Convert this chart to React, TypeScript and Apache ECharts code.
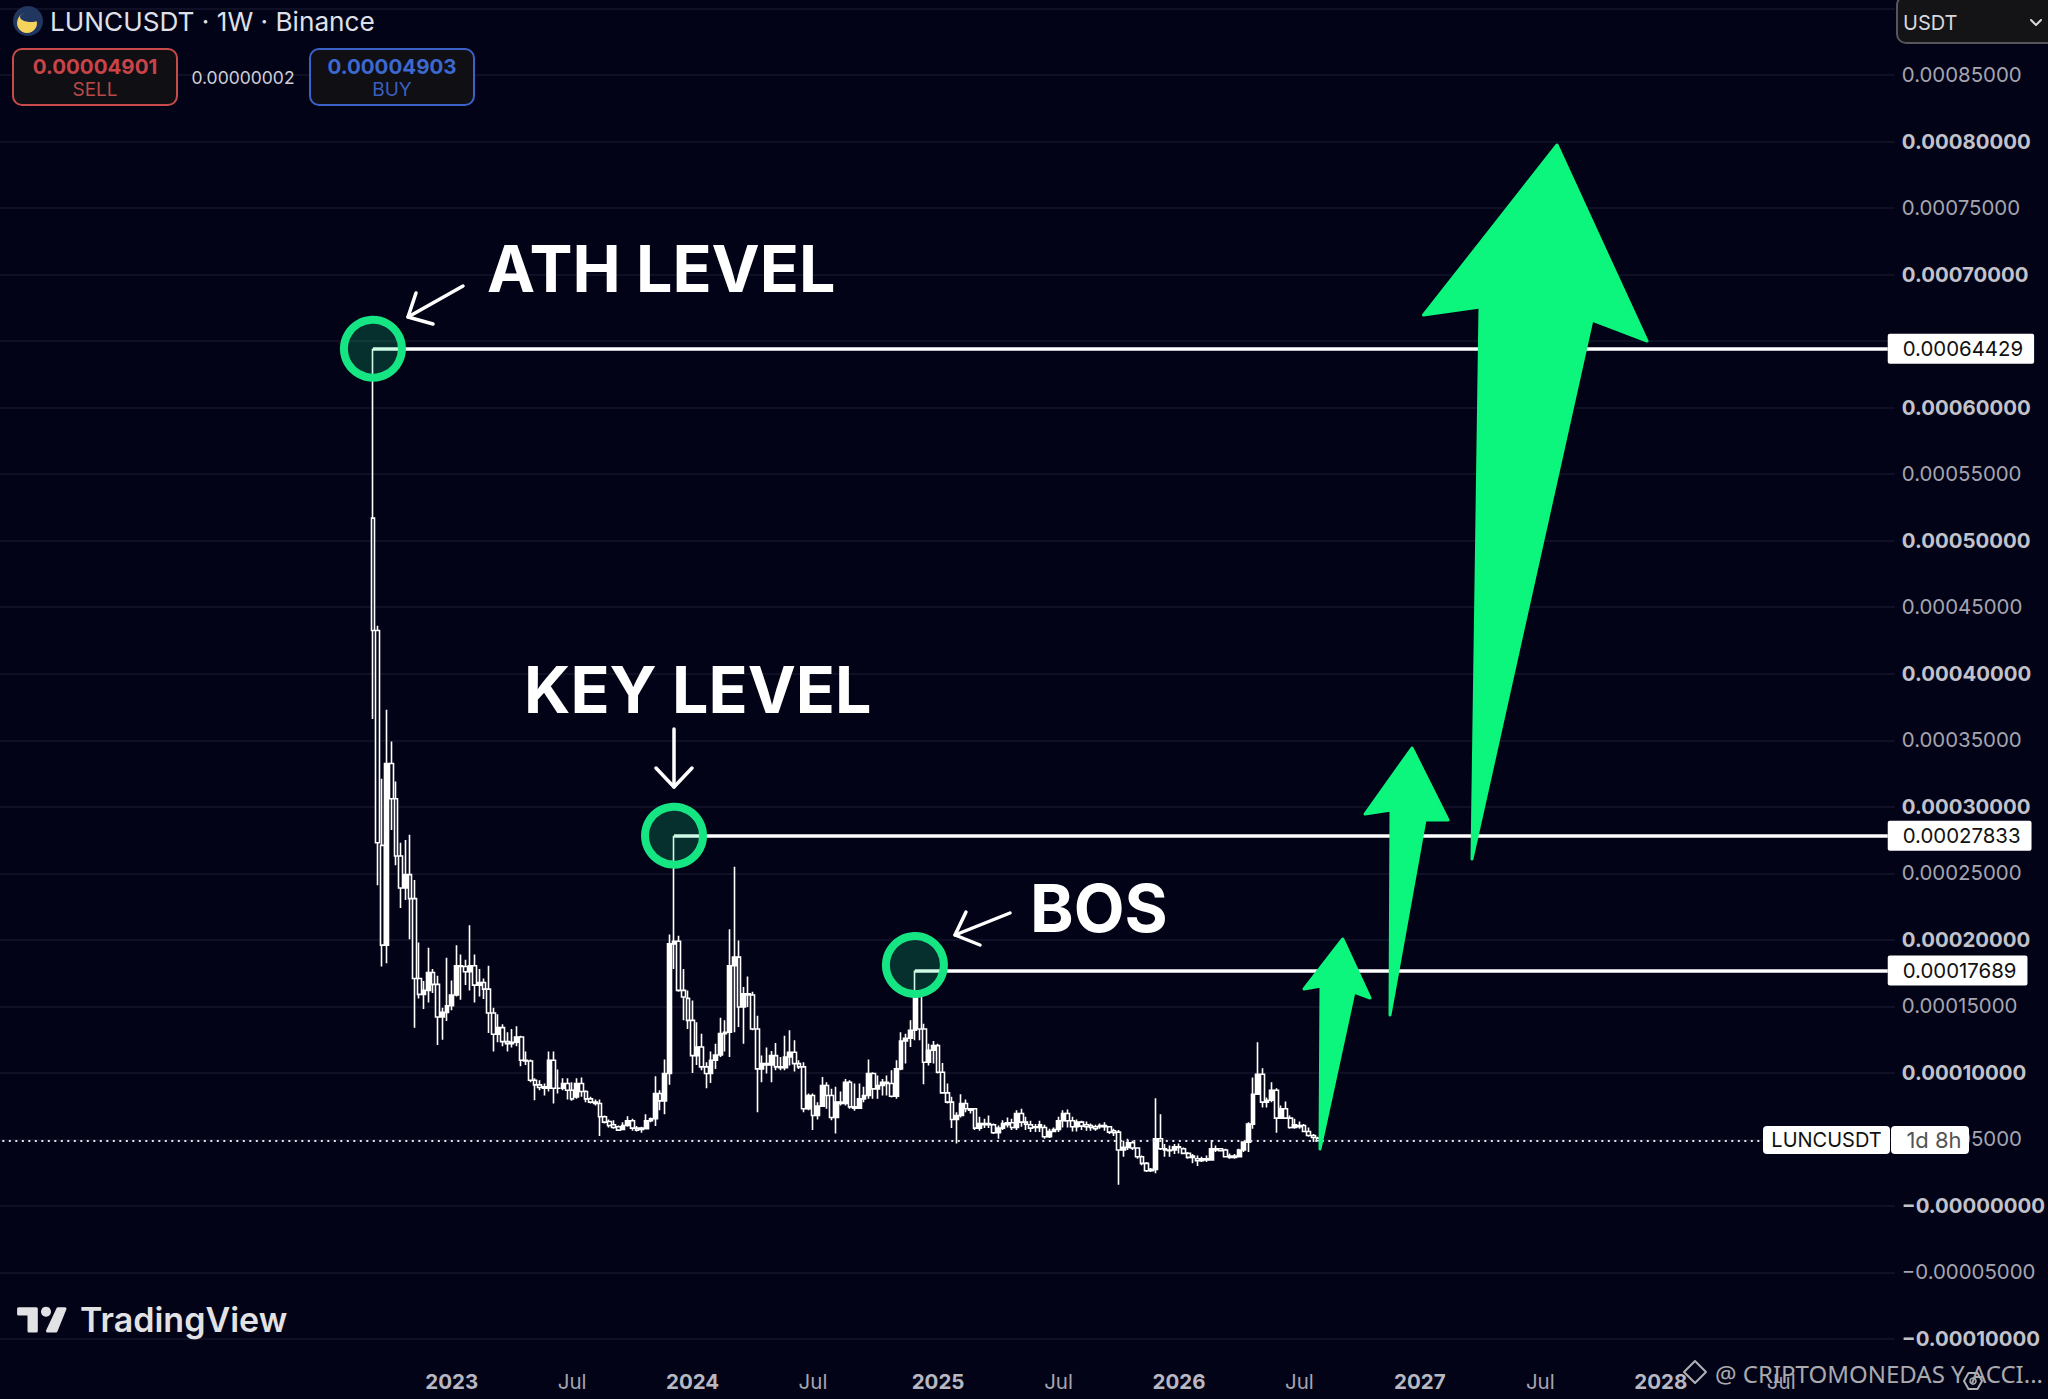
import React, { useEffect, useRef } from "react";
import * as echarts from "echarts";

// Prices in units of 0.00001 USDT, one entry per weekly candle
const opens = [51.7,43.25,27.1,19.6,33.25,30.6,26.3,23.9,24.9,23.1,17.1,15.9,16.2,17.55,16.65,14.2,14.55,15.05,15.85,18.05,18.0,17.6,18.05,16.6,16.8,16.3,14.5,12.9,13.4,12.35,12.2,12.3,12.7,10.95,10.9,9.45,9.1,8.95,8.85,10.95,8.85,8.85,9.2,8.7,8.2,9.2,8.6,8.05,7.8,7.7,6.7,6.35,6.1,5.95,5.75,6.05,6.4,5.85,5.85,5.8,6.4,6.55,8.45,7.9,9.95,19.7,19.9,16.2,15.6,13.95,11.3,11.95,10.45,9.95,10.95,11.35,12.95,13.05,18.05,18.7,14.95,15.95,15.85,13.3,10.3,10.7,10.6,11.3,10.45,10.4,11.2,11.55,10.7,10.45,7.3,8.3,6.8,7.5,9.05,8.3,6.65,7.8,7.7,9.3,7.45,7.35,8.05,8.3,9.95,8.8,9.05,9.3,9.2,8.25,10.3,12.4,12.6,13.2,16.15,13.3,10.8,11.7,12.05,10.05,8.5,7.8,6.5,6.8,7.7,7.3,7.3,5.85,6.2,6.1,6.1,5.5,5.85,6.1,6.25,5.9,6.95,6.3,6.1,5.95,5.9,5.9,5.2,5.6,5.75,6.4,6.95,6.4,5.95,6.3,6.1,6.05,5.95,6.05,6.05,5.95,5.65,5.55,4.2,4.4,4.75,4.35,3.7,3.2,2.65,2.75,5.05,4.3,4.2,4.2,4.45,4.3,3.95,3.65,3.55,3.4,3.55,3.45,4.3,4.3,4.2,3.75,3.75,3.7,4.2,4.8,6.15,8.4,9.9,7.8,7.95,8.7,6.6,7.3,6.6,5.9,6.05,6.05,5.6,5.3,5.1];
const closes = [43.25,27.3,19.6,33.25,30.6,26.3,23.9,24.9,23.1,17.1,15.9,16.2,17.55,16.65,14.2,14.55,15.05,15.85,18.05,18.0,17.6,18.05,16.6,16.8,16.3,14.5,12.9,13.4,12.35,12.2,12.3,12.7,10.95,10.9,9.45,9.1,8.9,8.85,10.95,8.85,8.85,9.2,8.7,8.05,9.2,8.6,8.05,7.8,7.7,6.7,6.3,6.05,5.9,5.7,6.05,6.4,5.85,5.7,5.75,6.4,6.55,8.45,7.9,9.95,19.7,19.9,16.2,15.7,13.95,11.3,11.95,10.45,9.95,10.95,11.35,12.95,13.05,18.05,18.7,14.95,15.95,15.85,13.3,10.3,10.7,10.6,11.3,10.45,10.4,11.2,11.55,10.7,10.45,7.3,8.3,6.8,7.5,9.05,8.3,6.65,7.8,7.7,9.3,7.45,7.35,8.05,8.3,9.95,8.8,9.05,9.3,9.2,8.25,10.3,12.4,12.6,13.2,16.15,13.3,10.8,11.7,12.05,10.05,8.5,7.8,6.5,6.8,7.7,7.3,7.2,5.85,6.2,6.1,6.2,5.5,5.85,6.2,6.25,5.9,6.95,6.3,6.15,5.85,5.9,6.1,5.2,5.6,5.75,6.4,6.95,6.4,5.95,6.3,6.0,5.95,5.9,5.8,5.95,5.95,5.55,5.5,4.2,4.4,4.75,4.35,3.7,3.2,2.65,2.75,5.05,4.3,4.2,4.15,4.45,4.4,3.95,3.65,3.75,3.4,3.55,3.45,4.3,4.2,4.15,3.7,3.65,3.65,4.2,4.8,6.15,8.4,9.9,7.8,7.95,8.7,6.6,7.3,6.6,5.9,6.1,5.95,5.6,5.3,5.15,4.9];
const lows = [36.6,24.1,18.0,18.25,28.25,25.6,22.4,23.0,20.05,13.4,15.6,14.8,15.3,16.0,12.1,12.5,13.9,14.7,15.75,15.5,16.6,16.2,15.3,15.75,15.55,13.0,11.6,12.3,12.0,11.6,11.9,12.0,10.5,10.6,9.3,7.95,8.7,8.3,8.6,7.7,8.45,8.7,8.0,7.9,8.05,8.2,7.8,7.7,7.55,5.25,6.2,5.9,5.8,5.65,5.7,5.95,5.65,5.6,5.5,5.75,6.3,6.0,7.2,6.9,9.1,17.8,16.1,13.95,13.3,10.0,10.6,10.2,8.85,9.25,10.3,11.2,11.6,11.2,13.05,13.45,12.2,14.95,13.2,7.05,9.3,9.95,9.3,10.2,10.2,10.2,10.55,10.1,10.3,7.05,7.2,5.7,6.5,7.45,7.3,6.45,5.45,7.55,7.55,7.3,7.15,7.3,7.8,8.05,8.05,8.05,8.3,8.3,8.15,8.05,10.2,10.7,11.95,12.45,12.45,9.15,10.55,10.7,9.95,8.45,7.7,5.85,4.7,6.65,7.05,6.95,5.7,5.65,5.85,5.85,5.4,5.05,5.7,5.9,5.7,5.7,5.95,5.7,5.55,5.55,5.55,5.05,5.1,5.55,5.55,5.9,5.9,5.6,5.6,5.7,5.65,5.65,5.65,5.8,5.65,5.4,5.25,1.6,3.7,4.2,4.2,3.55,3.05,2.55,2.55,2.45,4.2,3.7,3.7,3.9,3.95,3.9,3.55,3.2,3.0,3.3,3.3,3.4,4.05,4.1,3.65,3.55,3.55,3.65,4.05,4.05,5.8,8.4,7.4,7.4,7.8,5.5,6.55,6.55,5.8,5.8,5.8,5.55,5.2,4.8,4.85];
const highs = [64.429,43.6,32.1,37.3,34.9,31.9,27.3,27.5,27.9,24.5,19.8,16.9,19.4,17.8,17.3,14.9,18.65,16.95,19.6,18.9,18.5,21.1,18.9,17.8,17.1,18.05,14.9,14.4,13.65,13.05,13.3,13.5,12.8,11.6,11.0,9.6,9.45,9.2,11.6,11.6,10.25,9.6,9.6,9.3,9.6,9.65,8.7,8.2,8.0,8.0,6.8,6.5,6.45,6.05,6.3,6.75,6.55,6.0,5.95,6.9,6.65,9.75,8.7,11.0,20.4,27.833,20.3,17.8,16.2,15.45,13.8,12.95,10.8,11.6,12.2,14.15,13.95,20.8,25.5,19.95,16.45,17.25,16.1,14.3,11.3,11.9,11.65,12.25,11.2,12.8,13.2,12.45,10.95,10.8,8.45,8.45,7.8,9.7,9.3,8.8,8.95,8.6,9.55,9.45,9.2,9.2,8.95,11.0,10.05,9.8,9.55,9.8,10.2,10.95,13.05,12.95,13.95,17.689,16.2,13.7,12.2,12.4,12.2,10.75,9.2,8.2,7.05,8.4,8.0,7.35,7.35,6.7,6.55,6.8,6.2,6.05,6.45,6.65,6.55,7.2,7.3,6.7,6.4,6.15,6.4,6.1,5.8,5.9,6.7,7.2,7.25,6.7,6.5,6.4,6.35,6.2,6.1,6.2,6.3,6.0,5.8,5.7,4.9,5.05,4.9,4.4,3.8,3.3,2.85,8.1,6.9,4.65,4.55,4.65,4.7,4.4,4.05,3.9,3.8,3.7,3.8,4.95,4.55,4.3,4.3,3.95,3.9,4.3,4.85,6.3,9.65,12.3,10.35,8.15,9.3,8.85,7.55,7.85,6.8,6.55,6.35,6.15,5.9,5.4,5.2];

const firstWeek = "2021-02-22";
const weekCount = 409;
const firstCandle = 80; // candles begin at this week of the axis
const tickLabels: Record<string, string> = {
  "2023-01-02": "2023", "2023-07-03": "Jul", "2024-01-01": "2024", "2024-07-01": "Jul",
  "2025-01-06": "2025", "2025-07-07": "Jul", "2026-01-05": "2026", "2026-07-06": "Jul",
  "2027-01-04": "2027", "2027-07-05": "Jul", "2028-01-03": "2028", "2028-07-03": "Jul",
};
const athLevel = 64.429, keyLevel = 27.833, bosLevel = 17.689, lastPrice = 4.9;
const UNIT = 0.00001;

const categories: string[] = [];
{
  const t0 = Date.parse(firstWeek + "T00:00:00Z");
  for (let k = 0; k < weekCount; k++) categories.push(new Date(t0 + k * 7 * 864e5).toISOString().slice(0, 10));
}
const weekOf = (i: number) => categories[firstCandle + i];
const candleData = categories.map((_, k) => {
  const i = k - firstCandle;
  return i >= 0 && i < opens.length
    ? [opens[i] * UNIT, closes[i] * UNIT, lows[i] * UNIT, highs[i] * UNIT]
    : ["-", "-", "-", "-"];
});

const BG = "#030318", GRID = "#15152a", GREEN = "#0cf57c", RING = "#16e583";
const FONT = "Inter, Roboto, sans-serif";

const txt = (text: string, x: number, y: number, fontSize: number, fill: string, fontWeight: any = 400, align = "left", fontFamily = FONT) => ({
  type: "text", z: 120, style: { text, x, y, fontSize, fontWeight, fill, align, verticalAlign: "middle", fontFamily },
});
const rect = (x: number, y: number, width: number, height: number, fill: string, stroke?: string, r = 0, lineWidth = 2) => ({
  type: "rect", z: 110, shape: { x, y, width, height, r }, style: { fill, stroke, lineWidth },
});
const poly = (points: number[][], fill: string) => ({
  type: "polygon", z: 100, shape: { points }, style: { fill, stroke: fill, lineWidth: 3, lineJoin: "round" },
});
const pen = (points: number[][], stroke = "#ffffff", lineWidth = 3.5, z = 100) => ({
  type: "polyline", z, shape: { points }, style: { fill: "none", stroke, lineWidth, lineCap: "round", lineJoin: "round" },
});

const annotations: any[] = [
  // big green arrows
  poly([[1557,145],[1647,341],[1592,320],[1472,859],[1480,307],[1423.5,315]], GREEN),
  poly([[1412,748],[1448,820],[1425,820],[1390,1015],[1391,810],[1365,814]], GREEN),
  poly([[1342.7,939],[1370,998],[1354,992],[1320,1149],[1321,986],[1304,989]], GREEN),
  // thin white arrows
  pen([[463,286],[408,317]]), pen([[416,293],[408,317],[433,324]]),
  pen([[674,729],[674,787]]), pen([[656,768],[674,787],[692,768]]),
  pen([[1010,913],[955,935]]), pen([[966,912],[955,935],[980,945]]),
  txt("ATH LEVEL", 487, 269, 64.5, "#ffffff", 700),
  txt("KEY LEVEL", 524, 690, 64.5, "#ffffff", 700),
  txt("BOS", 1030, 908, 66, "#ffffff", 700),
  // header
  { type: "circle", z: 110, shape: { cx: 28, cy: 21, r: 15 }, style: { fill: "#22375f" } },
  { type: "circle", z: 111, shape: { cx: 27, cy: 23, r: 10 }, style: { fill: "#f5d35c" } },
  { type: "ellipse", z: 112, shape: { cx: 31, cy: 17, rx: 11, ry: 5 }, style: { fill: "#22375f" } },
  txt("LUNCUSDT · 1W · Binance", 50, 21, 26.2, "#dfe0e8"),
  rect(13, 49, 164, 56, "#100f14", "#c84a4a", 9),
  txt("0.00004901", 95, 66, 20.5, "#c94448", 700, "center"),
  txt("SELL", 95, 89, 19, "#b84a48", 400, "center"),
  txt("0.00000002", 243, 77, 17.5, "#cfd0d8", 400, "center"),
  rect(310, 49, 164, 56, "#100f14", "#3b62c9", 9),
  txt("0.00004903", 392, 66, 20.5, "#3d68d0", 700, "center"),
  txt("BUY", 392, 89, 19, "#3a5fc0", 400, "center"),
  rect(1897, -4, 160, 47, "#141417", "#55555c", 9),
  txt("USDT", 1903, 23, 20, "#d8d8dc"),
  pen([[2031,20],[2036,25],[2041,20]], "#d8d8dc", 2, 120),
  // last price tag
  rect(1763, 1126, 127, 28, "#ffffff", undefined, 4),
  rect(1891, 1126, 78, 28, "#ffffff", undefined, 4),
  txt("LUNCUSDT", 1826.5, 1140, 20, "#111111", 400, "center"),
  txt("1d 8h", 1934, 1140, 22, "#555555", 400, "center"),
  // TradingView logo
  poly([[18.6,1308.7],[36.3,1308.7],[36.3,1331],[29,1331],[29,1314],[18.6,1314]], "#e2e2e4"),
  { type: "circle", z: 100, shape: { cx: 46, cy: 1311.7, r: 5 }, style: { fill: "#e2e2e4" } },
  poly([[58,1308.7],[65,1308.7],[56,1331],[47.5,1331]], "#e2e2e4"),
  txt("TradingView", 80, 1319, 34, "#e2e2e4", 600),
  // watermark
  pen([[1695,1361],[1706,1372],[1695,1383],[1684,1372],[1695,1361]], "#b0b0b4", 2),
  txt("@ CRIPTOMONEDAS Y ACCI...", 1715, 1373, 24, "#aaaaae", 400, "left", "Noto Sans, sans-serif"),
  pen([[1964,1381],[1968.5,1373],[1977.5,1373],[1982,1381],[1977.5,1389],[1968.5,1389],[1964,1381]], "#b0b0b4", 2),
  { type: "circle", z: 100, shape: { cx: 1973, cy: 1381, r: 3 }, style: { fill: "none", stroke: "#b0b0b4", lineWidth: 1.5 } },
];

const levelLine = (level: number, i: number) => [
  {
    coord: [weekOf(i), level * UNIT],
    lineStyle: { color: "#ffffff", width: 3.6, type: "solid" },
    label: {
      show: true, position: "end", distance: 0, formatter: (level * UNIT).toFixed(8),
      backgroundColor: "#ffffff", color: "#111111", fontSize: 20.4, fontFamily: FONT,
      padding: [5, 11, 5, 15], borderRadius: 2,
    },
  },
  { coord: [categories[weekCount - 2], level * UNIT] },
];
const ring = (i: number, level: number) => ({
  coord: [weekOf(i), level * UNIT], symbol: "circle", symbolSize: 58,
  itemStyle: { color: "rgba(22,229,131,0.2)", borderColor: RING, borderWidth: 8 },
});

export default function App() {
  const ref = useRef<HTMLDivElement>(null);
  useEffect(() => {
    document.body.style.margin = "0";
    const chart = echarts.init(ref.current!, undefined, { renderer: "svg" });
    chart.setOption({
      animation: false,
      backgroundColor: BG,
      grid: { left: -0.8, right: 144.1, top: 8.5, bottom: 60 },
      xAxis: {
        type: "category",
        data: categories,
        boundaryGap: true,
        axisLine: { show: false },
        axisTick: { show: false },
        splitLine: { show: false },
        axisLabel: {
          margin: 32,
          interval: (_: number, value: string) => tickLabels[value] !== undefined,
          formatter: (value: string) => {
            const t = tickLabels[value] ?? "";
            return t === "Jul" ? `{m|${t}}` : `{y|${t}}`;
          },
          rich: {
            y: { fontFamily: FONT, fontSize: 20.5, fontWeight: 700, color: "#b8b8c2" },
            m: { fontFamily: FONT, fontSize: 20.5, fontWeight: 400, color: "#a5a5b0" },
          },
        },
      },
      yAxis: {
        type: "value",
        position: "right",
        min: -0.0001,
        max: 0.0009,
        interval: 0.00005,
        axisLine: { show: false },
        axisTick: { show: false },
        splitLine: { show: true, lineStyle: { color: GRID, width: 1.5 } },
        axisLabel: {
          margin: 7.1,
          showMaxLabel: false,
          formatter: (v: number) => {
            const s = (v <= 1e-9 ? "−" : "") + Math.abs(v).toFixed(8);
            if (s === "0.00065000") return "";
            return Math.round(v / 0.00005) % 2 === 0 ? `{b|${s}}` : `{r|${s}}`;
          },
          rich: {
            b: { fontFamily: FONT, fontSize: 20.4, fontWeight: 700, color: "#c2c2ca", padding: [0, 0, 1, 0] },
            r: { fontFamily: FONT, fontSize: 20.4, fontWeight: 400, color: "#a5a5b0", padding: [0, 0, 1, 0] },
          },
        },
      },
      series: [
        {
          type: "candlestick",
          barWidth: 4.2,
          clip: false,
          itemStyle: { color: "#ffffff", color0: BG, borderColor: "#ffffff", borderColor0: "#ffffff", borderWidth: 1.6 },
          data: candleData,
          markLine: {
            silent: true,
            symbol: "none",
            z: 4,
            data: [
              levelLine(athLevel, 0),
              levelLine(keyLevel, 65),
              levelLine(bosLevel, 117),
              [
                { coord: [categories[0], lastPrice * UNIT], lineStyle: { color: "#e4e4e8", width: 2, type: [2, 4.5] }, label: { show: false } },
                { coord: [categories[weekCount - 2], lastPrice * UNIT] },
              ],
            ],
          },
          markPoint: {
            silent: true,
            z: 6,
            label: { show: false },
            data: [ring(0, athLevel), ring(65, keyLevel), ring(117, 18.11)],
          },
        },
      ],
      graphic: { elements: annotations },
    });
    return () => chart.dispose();
  }, []);
  return <div ref={ref} style={{ position: "absolute", left: 0, top: 0, width: 2048, height: 1399 }} />;
}
